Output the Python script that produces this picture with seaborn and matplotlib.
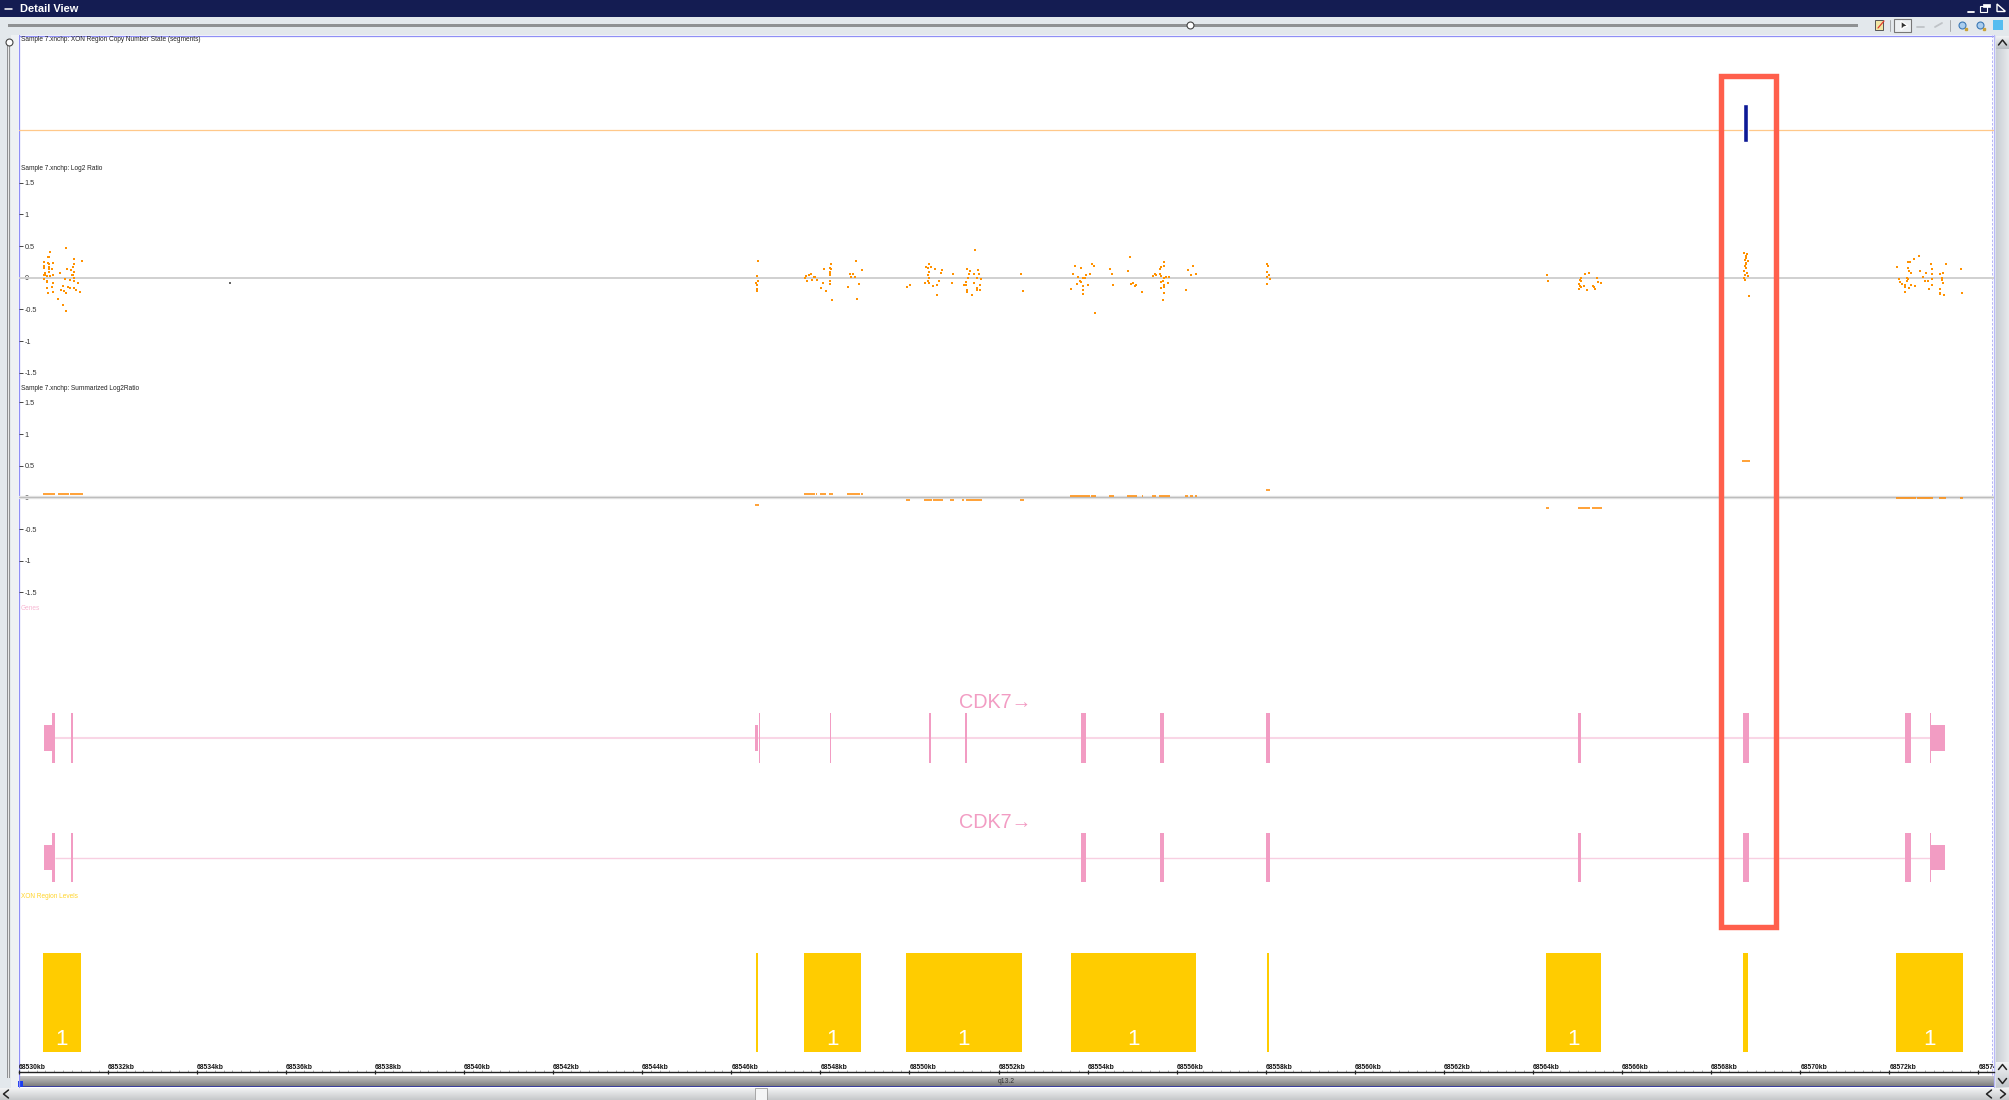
import numpy as np
import pandas as pd
import matplotlib
matplotlib.use("Agg")
import matplotlib.pyplot as plt
from matplotlib.patches import Rectangle
from matplotlib.ticker import MultipleLocator
from matplotlib.transforms import Bbox
import seaborn as sns

BASE_KB = 68500

# positions are kb above BASE_KB
log2_kb = [
    30.63, 30.63, 30.76, 30.74, 30.71, 30.71, 30.75, 30.73, 30.84, 30.63, 30.81, 30.75, 30.75, 30.64,
    30.62, 30.66, 30.69, 30.76, 30.84, 30.63, 30.69, 30.69, 30.82, 30.69, 30.81, 30.72, 30.82,
    31.13, 31.31, 31.47, 31.30, 31.27, 31.14, 31.24, 31.31, 30.99, 31.25, 31.28, 31.10, 31.30,
    31.21, 31.29, 31.39, 31.05, 31.16, 31.30, 31.01, 31.22, 31.07, 31.11, 31.34, 31.43, 30.94, 31.06, 31.13,
    46.64, 46.61, 46.64, 46.59, 46.60, 46.61, 46.62, 46.61,
    47.69, 47.72, 47.78, 47.83, 47.89, 47.91, 47.73, 47.85, 47.95, 48.12, 48.28, 48.25, 48.27, 48.26,
    48.26, 48.26, 48.24, 48.25, 48.10, 48.04, 48.16, 48.30, 48.83, 48.97, 48.70, 48.76, 48.73, 48.81,
    48.90, 48.65, 48.86,
    49.98, 50.04, 50.38, 50.47, 50.41, 50.45, 50.52, 50.60, 50.46, 50.45, 50.47, 50.76, 50.73, 51.01,
    50.70, 50.45, 50.47, 50.57, 50.65, 50.64, 50.98, 51.50, 51.33, 51.39, 51.56, 51.37, 51.47, 51.59,
    51.35, 51.55, 51.63, 51.31, 51.49, 51.61, 51.25, 51.31, 51.55, 51.32, 51.32, 51.54, 51.61, 51.43,
    52.53, 52.58,
    53.75, 53.88, 53.71, 53.81, 53.93, 53.97, 54.00, 54.08, 54.12, 54.16, 53.86, 53.88, 53.78, 53.93,
    53.66, 53.92, 53.92, 54.04, 54.20, 54.53, 54.58, 54.60, 54.97, 54.94, 55.01, 55.04, 55.08, 55.12, 55.25,
    55.49, 55.53, 55.56, 55.66, 55.68, 55.66, 55.68, 55.74, 55.74, 55.79, 55.85, 55.74, 55.71, 55.67,
    55.82, 55.74, 55.74, 55.67, 55.73, 55.72, 56.27, 56.40, 56.35, 56.46, 56.24,
    58.06, 58.08, 58.06, 58.10, 58.06, 58.11, 58.05,
    64.32, 64.36, 65.19, 65.26, 65.08, 65.07, 65.10, 65.45, 65.48, 65.53, 65.04, 65.07, 65.15, 65.04,
    65.10, 65.23, 65.35, 65.38, 65.41,
    68.75, 68.82, 68.79, 68.76, 68.83, 68.78, 68.80, 68.76, 68.80, 68.75, 68.82, 68.77, 68.83, 68.75,
    68.76, 68.85, 68.78, 68.79,
    72.17, 72.55, 72.66, 72.43, 72.46, 72.43, 72.45, 72.49, 72.69, 72.93, 73.27, 72.95, 72.83, 72.95,
    73.15, 73.20, 73.61, 73.64, 72.22, 72.41, 72.42, 72.76, 72.97, 73.18, 73.19, 73.20, 72.24, 72.28,
    72.35, 72.35, 72.40, 72.49, 72.57, 72.44, 72.36, 72.80, 72.87, 72.96, 72.90, 73.15, 73.15, 73.14, 73.24,
]
log2_ratio = [
    .25, .19, .41, .33, .32, .23, .21, .17, .23, .15, .14, .13, .09, .08,
    .04, .04, .02, .02, .04, -.02, -.05, -.07, -.09, -.17, -.14, -.24, -.23,
    .47, .30, .26, .22, .17, .13, .12, .09, .07, .04, .04, -.02, 0,
    -.04, -.05, -.08, -.13, -.15, -.16, -.19, -.17, -.21, -.24, -.20, -.23, -.33, -.43, -.52,
    .27, .03, -.06, -.08, -.09, -.11, -.18, -.21,
    0, .02, .05, .06, .01, .01, -.05, -.04, -.04, .14, .22, .16, .14, .09,
    .07, .04, -.05, -.10, -.08, -.16, -.21, -.35, .26, .12, .06, .06, .01, .01,
    -.10, -.14, -.33,
    -.14, -.11, -.09, .21, .17, .16, .17, .14, .09, .04, 0, .12, .08, .06,
    -.05, -.06, -.09, -.13, -.11, -.27, -.08, .43, .14, .11, .12, .06, .06, .06,
    0, 0, -.02, -.07, -.09, -.11, -.12, -.11, -.17, -.19, -.22, -.19, -.19, -.27,
    .06, -.21,
    .18, .15, .06, .01, 0, 0, .05, .06, .22, .18, -.06, -.07, -.10, -.13,
    -.18, -.19, -.26, -.12, -.55, .14, .06, -.12, .32, .11, -.10, -.09, -.13, -.12, -.23,
    .03, .06, .05, .06, .03, .14, .17, .25, .18, .01, .01, 0, -.05, -.07,
    -.08, -.12, -.15, -.17, -.24, -.36, .12, .18, .05, .06, -.19,
    .21, .18, .09, .04, .01, -.02, -.10,
    .05, -.05, .06, .07, 0, -.03, -.05, -.01, -.07, -.09, -.10, -.13, -.13, -.18,
    -.15, -.19, -.13, -.14, -.18,
    .39, .37, .35, .28, .26, .24, .21, .18, .16, .11, .08, .05, .02, 0,
    -.03, -.29, .31, .22,
    .17, .29, .35, .25, .25, .16, .10, .08, .11, .21, .22, .14, .07, .06,
    .06, .08, .14, -.24, -.02, 0, -.02, .01, -.02, 0, -.04, -.08, -.07, -.10,
    -.12, -.14, -.06, -.12, -.13, -.17, -.22, -.06, -.06, -.12, -.18, -.18, -.24, -.26, -.27,
]
lone_kb = [34.80]
lone_ratio = [-.09]

seg_start = [30.61, 30.93, 31.20, 31.40, 46.58, 47.67, 47.94, 48.03, 48.23, 48.64, 48.95,
             49.95, 50.36, 50.55, 50.95, 51.22, 51.29, 52.51,
             53.64, 54.10, 54.51, 54.91, 55.24, 55.47, 55.63, 56.21, 56.33, 56.44, 58.03,
             64.30, 65.03, 65.33, 68.70, 72.15, 72.63, 73.11, 73.59]
seg_end = [30.87, 31.18, 31.38, 31.50, 46.65, 47.91, 47.97, 48.17, 48.32, 48.92, 48.99,
           50.05, 50.53, 50.79, 51.03, 51.25, 51.65, 52.61,
           54.09, 54.22, 54.62, 55.13, 55.28, 55.57, 55.88, 56.28, 56.40, 56.47, 58.12,
           64.37, 65.29, 65.55, 68.88, 72.59, 72.99, 73.28, 73.66]
seg_value = [.06, .06, .06, .06, -.115, .05, .05, .05, .05, .05, .05,
             -.035, -.035, -.035, -.035, -.035, -.035, -.035,
             .02, .02, .02, .02, .02, .02, .02, .02, .02, .02, .12,
             -.16, -.16, -.16, .58, -.015, -.015, -.015, -.015]

cn_normal = 2
cn_seg_kb = [68.72, 68.84]
cn_seg_state = [1.5, 3]

exon_a_start = [30.81, 31.23, 46.66, 48.24, 50.46, 51.28, 53.87, 55.64, 58.02, 65.03, 68.73, 72.36, 72.92]
exon_a_end = [30.87, 31.27, 46.68, 48.28, 50.51, 51.33, 53.98, 55.74, 58.12, 65.10, 68.86, 72.49, 72.94]
exon_b_start = [30.81, 31.23, 53.87, 55.64, 58.02, 65.03, 68.73, 72.36, 72.92]
exon_b_end = [30.87, 31.27, 53.98, 55.74, 58.12, 65.10, 68.86, 72.49, 72.94]
utr_a_start = [30.63, 46.57, 72.94]
utr_a_end = [30.81, 46.64, 73.26]
utr_b_start = [30.63, 72.94]
utr_b_end = [30.81, 73.26]
intron_kb = [30.87, 72.92]

xon_start = [30.61, 46.59, 47.67, 49.95, 53.65, 58.04, 64.30, 68.72, 72.16]
xon_end = [31.45, 46.63, 48.95, 52.56, 56.45, 58.09, 65.53, 68.83, 73.65]
xon_level = ["1", "", "1", "1", "1", "", "1", "", "1"]

ruler_kb = list(range(68530, 68576, 2))
log2_ticks = [1.5, 1, 0.5, 0, -0.5, -1, -1.5]
log2_tick_labels = ["1.5", "1", "0.5", "0", "-0.5", "-1", "-1.5"]

title_cn = "Sample 7.xnchp: XON Region Copy Number State (segments)"
title_log2 = "Sample 7.xnchp: Log2 Ratio"
title_sum = "Sample 7.xnchp: Summarized Log2Ratio"

W, H = 2009, 1100
X_L, X_R = 18.7, 1994
XLIM = (68530.06, 68574.35)
PX_PER_UNIT = 63.3
ORANGE = "#ff9100"
PINK = "#f29cc3"
GOLD = "#ffcc00"
CHROME = "#e3e8ec"

sns.set_theme(style="white")
plt.rcParams["font.family"] = ["Liberation Sans", "DejaVu Sans"]

fig = plt.figure(figsize=(W / 100, H / 100), dpi=100, facecolor="white")


def px_axes(y0, y1, x0=X_L, x1=X_R, z=2):
    ax = fig.add_axes([x0 / W, 1 - y1 / H, (x1 - x0) / W, (y1 - y0) / H], zorder=z)
    ax.patch.set_alpha(0)
    ax.set_xlim(XLIM)
    for s in ax.spines.values():
        s.set_visible(False)
    ax.set_xticks([])
    ax.set_yticks([])
    return ax


def kb(values):
    return BASE_KB + np.asarray(values, dtype=float)


# window chrome, in pixels
bg = fig.add_axes([0, 0, 1, 1], zorder=0)
bg.set_xlim(0, W)
bg.set_ylim(H, 0)
bg.axis("off")


def box(x0, y0, x1, y1, c, **kw):
    bg.add_patch(Rectangle((x0, y0), x1 - x0, y1 - y0, fc=c, ec="none", **kw))


def grad(x0, y0, x1, y1, top, bottom, vertical=True):
    a = np.array(matplotlib.colors.to_rgb(top))
    b = np.array(matplotlib.colors.to_rgb(bottom))
    t = np.linspace(0, 1, 24)[:, None]
    img = (a * (1 - t) + b * t)[:, None, :]
    if not vertical:
        img = img.transpose(1, 0, 2)
    bg.imshow(img, extent=(x0, x1, y1, y0), aspect="auto", interpolation="bilinear", zorder=1)


box(0, 0, W, 17, "#141c52")
box(0, 17, W, 35, CHROME)
box(0, 35, 18, 1088, CHROME)
box(10.5, 35, 18, 1088, "#eef1f3")
box(1994, 35, W, 1088, CHROME)
grad(1996, 36, W, 1088, "#c9ced4", "#e6e9ec", vertical=False)
grad(1996, 36, W, 49, "#f1f3f5", "#b9bec4")
grad(1996, 1062, W, 1087, "#f1f3f5", "#c4c8cd")
grad(0, 1088, W, H, "#f2f3f4", "#c6c8ca")
grad(19, 1076, 1994, 1086, "#c4c4c4", "#7e7e7e")
box(19, 1085.5, 1994, 1087.2, "#3a3f9e")
box(18, 1081, 23, 1087, "#1a3cf0")
box(755, 1088, 767, H, "#f4f5f6", zorder=2)
bg.add_patch(Rectangle((755, 1088), 12, 12, fc="none", ec="#9a9a9a", lw=0.6, zorder=3))

# sliders
box(8, 23.5, 1858, 26.5, "#8f9193", zorder=2)
box(7, 42, 10, 1078, "#8f9193", zorder=2)
box(8.1, 42, 8.9, 1078, "#e8e8e8", zorder=2)
bg.plot([1190, 8.5], [25, 42], ls="none", marker="o", ms=5, mfc="white", mec="#444444", mew=0.8, zorder=3)

# plot frame
bg.plot([18.7, 18.7], [35, 1087], color="#8f8ff5", lw=0.9, zorder=2)
bg.plot([18.7, 1994], [35.5, 35.5], color="#8f8ff5", lw=0.9, zorder=2)
bg.plot([1994, 1994], [35, 1087], color="#b9b9f7", lw=0.9, zorder=2)
bg.plot([1992, 1992], [35, 1075], color="#a9a9f5", lw=0.6, ls=(0, (3, 2)), zorder=2)

# title bar and toolbar glyphs
bg.text(19.5, 9, "Detail View", color="white", fontsize=7.9, fontweight="bold", va="center", ha="left", zorder=3)
bg.plot([5, 12], [8.5, 8.5], color="white", lw=1.1, zorder=3)
bg.plot([1968, 1974], [11.5, 11.5], color="white", lw=1.3, zorder=3)
bg.add_patch(Rectangle((1980, 6), 7, 6, fc="none", ec="white", lw=0.8, zorder=3))
bg.add_patch(Rectangle((1983, 4), 7, 3, fc="white", ec="white", lw=0.5, zorder=3))
bg.fill([1997, 2005, 2005, 1997], [4, 11, 11.5, 11.5], fc="none", ec="white", lw=1.0, zorder=3)
bg.add_patch(Rectangle((1875, 20), 8, 10, fc="#f1e7a5", ec="#555555", lw=0.7, zorder=3))
bg.plot([1878, 1884], [28, 21], color="#e33b2e", lw=0.9, zorder=4)
bg.plot([1890, 1890], [20, 31], color="#a6a9ac", lw=0.7, zorder=3)
bg.add_patch(Rectangle((1894, 19), 17, 13, fc="#edf0f2", ec="#777777", lw=0.8, zorder=3))
bg.fill([1901, 1901, 1904, 1908], [21, 30, 27, 26], fc="#333333", zorder=4)
bg.plot([1917, 1924], [27, 27], color="#bfc3c7", lw=1.3, zorder=3)
bg.plot([1935, 1942], [27, 23], color="#bfc3c7", lw=1.3, zorder=3)
bg.plot([1950, 1950], [20, 31], color="#a6a9ac", lw=0.7, zorder=3)
bg.plot([1962, 1980], [25, 25], ls="none", marker="o", ms=5, mfc="#a9cdee", mec="#3c78b4", mew=0.8, zorder=3)
bg.plot([1965.5, 1983.5], [29, 29], ls="none", marker="s", ms=1.5, color="#c9a23a", zorder=3)
box(1993, 20, 2003, 30, "#55bdf0", zorder=3)
# chevrons on the scroll buttons
for gx, gy, dx, dy in [(2002.5, 42.5, 4, -2.5), (2002.5, 1067, 4, -2.5), (2002.5, 1081, 4, 2.5)]:
    bg.plot([gx - dx, gx, gx + dx], [gy - dy, gy + dy, gy - dy], color="#222222", lw=1.1, zorder=4)
for gx, gy, dx, dy in [(6, 1094, -2.5, 4), (1989, 1094, -2.5, 4), (2003, 1094, 2.5, 4)]:
    bg.plot([gx - dx, gx + dx, gx - dx], [gy - dy, gy, gy + dy], color="#222222", lw=1.1, zorder=4)
bg.set_xlim(0, W)
bg.set_ylim(H, 0)

# copy number track
ax_cn = px_axes(35, 160)
ax_cn.set_ylim(cn_normal - 30.5 / 25.5, cn_normal + 94.5 / 25.5)
ax_cn.axhline(cn_normal, color="#ffc88a", lw=0.9)
ax_cn.bar(kb(cn_seg_kb[0]), cn_seg_state[1] - cn_seg_state[0], width=cn_seg_kb[1] - cn_seg_kb[0],
          bottom=cn_seg_state[0], align="edge", color="#0d1a96", zorder=3)

# log2 ratio track
ax_log = px_axes(164, 378)
ax_log.axhline(0, color="#d0d0d0", lw=1.4, zorder=1)
df_log = pd.DataFrame({"kb": kb(log2_kb), "ratio": log2_ratio})
sns.scatterplot(data=df_log, x="kb", y="ratio", marker="s", s=2.2, color=ORANGE, linewidth=0, ax=ax_log, zorder=3)
df_lone = pd.DataFrame({"kb": kb(lone_kb), "ratio": lone_ratio})
sns.scatterplot(data=df_lone, x="kb", y="ratio", marker="s", s=1.4, color="#666666", linewidth=0, ax=ax_log, zorder=3)
ax_log.set_ylim((277.7 - 378) / PX_PER_UNIT, (277.7 - 164) / PX_PER_UNIT)

# summarized track
ax_sum = px_axes(384, 600)
ax_sum.axhline(0, color="#e6e6e6", lw=2.4, zorder=1)
ax_sum.axhline(0, color="#bdbdbd", lw=0.9, zorder=1)
ax_sum.hlines(seg_value, kb(seg_start), kb(seg_end), color="#ff8c0a", lw=1.15, zorder=3)
ax_sum.set_ylim((497.4 - 600) / PX_PER_UNIT, (497.4 - 384) / PX_PER_UNIT)

for ax in (ax_log, ax_sum):
    ax.set_xlim(XLIM)
    ax.set_xlabel("")
    ax.set_ylabel("")
    ax.set_xticks([])
    ax.set_yticks(log2_ticks)
    ax.set_yticklabels(log2_tick_labels, ha="left")
    ax.tick_params(axis="y", left=True, direction="in", length=3.2, width=0.7, color="#444444",
                   labelsize=5.2, labelcolor="#333333", pad=-4.4)

# gene tracks
for y0, y1, e0, e1, u0, u1, line_lw, line_c in [
    (713.3, 762.6, exon_a_start, exon_a_end, utr_a_start, utr_a_end, 1.5, "#f9d6e6"),
    (833, 882.3, exon_b_start, exon_b_end, utr_b_start, utr_b_end, 1.0, "#f8cfe1"),
]:
    ax = px_axes(y0, y1)
    ax.set_ylim(-1, 1)
    ax.hlines(0, kb(intron_kb[0]), kb(intron_kb[1]), color=line_c, lw=line_lw, zorder=1)
    ax.bar(kb(e0), 2, width=np.subtract(e1, e0), bottom=-1, align="edge", color=PINK, linewidth=0, zorder=2)
    ax.bar(kb(u0), 1.02, width=np.subtract(u1, u0), bottom=-0.51, align="edge", color=PINK, linewidth=0, zorder=2)
    ax.text(kb(51.14), 1.43, "CDK7\u2192", color=PINK, fontsize=14.2, ha="left", va="center", clip_on=False)

# XON levels
ax_xon = px_axes(952.8, 1052.2)
ax_xon.set_ylim(0, 1)
ax_xon.bar(kb(xon_start), 1, width=np.subtract(xon_end, xon_start), align="edge", color=GOLD, linewidth=0)
for s, e, lab in zip(xon_start, xon_end, xon_level):
    if lab:
        ax_xon.text(kb((s + e) / 2), 0.128, lab, color="white", fontsize=16, ha="center", va="center",
                    fontweight="light")

# ruler
ax_ruler = px_axes(1072, 1076)
ax_ruler.spines["top"].set_visible(True)
ax_ruler.spines["top"].set_color("#222222")
ax_ruler.spines["top"].set_linewidth(1.0)
ax_ruler.set_xticks(ruler_kb)
ax_ruler.set_xticklabels([f"{k}kb" for k in ruler_kb], ha="left", fontweight="bold", fontsize=4.9, color="#111111")
ax_ruler.xaxis.set_minor_locator(MultipleLocator(0.2))
ax_ruler.tick_params(axis="x", which="major", top=True, bottom=False, labeltop=True, labelbottom=False,
                     direction="inout", length=3.4, width=0.9, color="#222222", pad=-1.2)
ax_ruler.tick_params(axis="x", which="minor", top=True, bottom=False, direction="out", length=1.4,
                     width=0.4, color="#777777")
clip = Bbox([[X_L, 0], [X_R, H]])
for lab in ax_ruler.get_xticklabels():
    lab.set_clip_box(clip)
    lab.set_clip_on(True)

# overlay: track titles and the red highlight
top = fig.add_axes([0, 0, 1, 1], zorder=10)
top.patch.set_alpha(0)
top.set_xlim(0, W)
top.set_ylim(H, 0)
top.axis("off")
for ty, txt, c in [(39.5, title_cn, "#222222"), (168.5, title_log2, "#222222"), (388.5, title_sum, "#222222"),
                   (608, "Genes", "#f7b6d2"), (897, "XON Region Levels", "#ffd42a")]:
    top.text(21, ty, txt, color=c, fontsize=4.7, ha="left", va="center")
top.text(1006, 1081.4, "q13.2", color="#333333", fontsize=4.9, ha="center", va="center")
top.add_patch(Rectangle((1721, 76.2), 55, 850.6, fc="none", ec="#ff5f4c", lw=3.9, joinstyle="miter"))

fig.savefig("out.png", dpi=100)
